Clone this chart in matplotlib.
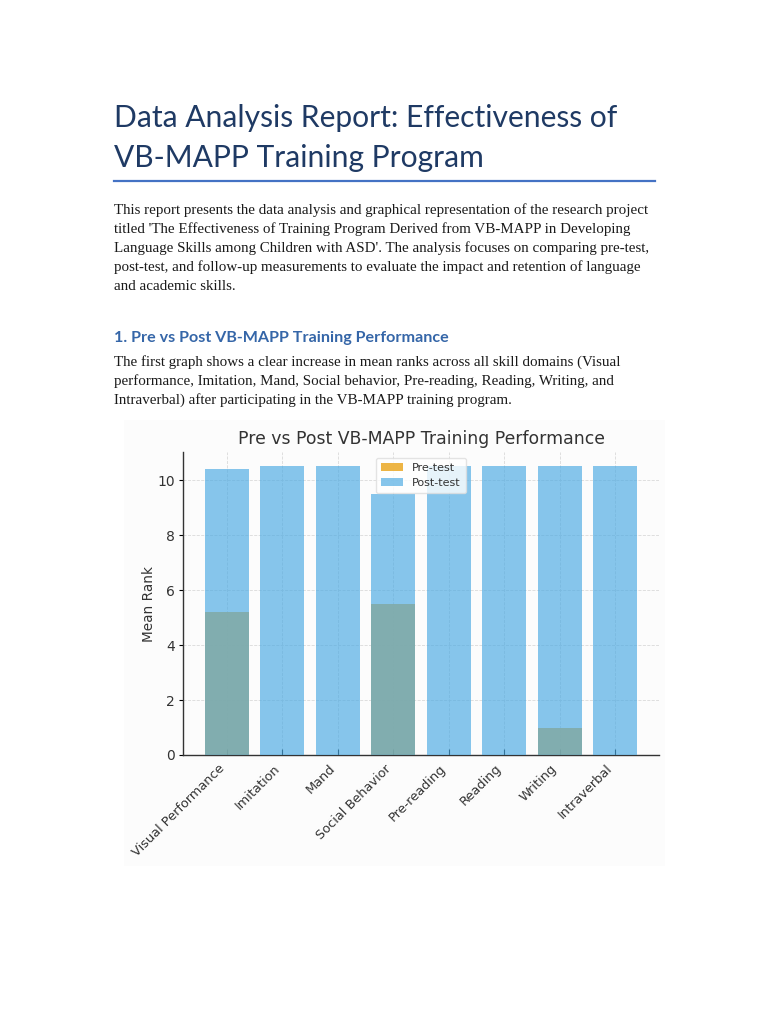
import numpy as np
import matplotlib.pyplot as plt
from matplotlib.patches import Rectangle

# ----------------------------------------------------------------
# data

skills = ["Visual Performance", "Imitation", "Mand", "Social Behavior",
          "Pre-reading", "Reading", "Writing", "Intraverbal"]
pre_test = [5.2, 0.0, 0.0, 5.5, 0.0, 0.0, 1.0, 0.0]
post_test = [10.4, 10.5, 10.5, 9.5, 10.5, 10.5, 10.5, 10.5]

doc_title = ["Data Analysis Report: Effectiveness of", "VB-MAPP Training Program"]
intro_lines = [
    "This report presents the data analysis and graphical representation of the research project",
    "titled 'The Effectiveness of Training Program Derived from VB-MAPP in Developing",
    "Language Skills among Children with ASD'. The analysis focuses on comparing pre-test,",
    "post-test, and follow-up measurements to evaluate the impact and retention of language",
    "and academic skills.",
]
section_head = "1. Pre vs Post VB-MAPP Training Performance"
section_lines = [
    "The first graph shows a clear increase in mean ranks across all skill domains (Visual",
    "performance, Imitation, Mand, Social behavior, Pre-reading, Reading, Writing, and",
    "Intraverbal) after participating in the VB-MAPP training program.",
]

# ----------------------------------------------------------------

W, H = 768, 1024
fig = plt.figure(figsize=(W / 100, H / 100), dpi=100)
fig.patch.set_facecolor("white")

def fy(y):
    # page pixel row -> figure fraction
    return 1 - y / H

left = 114 / W

# page title
for i, line in enumerate(doc_title):
    fig.text(left, fy(118 + 40 * i), line, fontsize=21.6, family="Lato",
             color="#1f3a64", va="center", ha="left")
fig.add_artist(plt.Line2D([left, 655 / W], [fy(181), fy(181)], color="#4472c4", lw=1.6))

serif = "Liberation Serif"
for i, line in enumerate(intro_lines):
    fig.text(left, fy(210 + 19 * i), line, fontsize=10.8, family=serif,
             color="#1a1a1a", va="center", ha="left")

fig.text(left, fy(338), section_head, fontsize=11.6, family="Lato", weight="bold",
         color="#3566a8", va="center", ha="left")
for i, line in enumerate(section_lines):
    fig.text(left, fy(362 + 19 * i), line, fontsize=10.8, family=serif,
             color="#1a1a1a", va="center", ha="left")

# faint background of the embedded chart image
fig.add_artist(Rectangle((124 / W, fy(866)), (665 - 124) / W, (866 - 420) / H,
                         transform=fig.transFigure, facecolor="#fcfcfc",
                         edgecolor="none", zorder=0))

# ----------------------------------------------------------------
# chart

ax = fig.add_axes([183 / W, fy(755), (659 - 183) / W, (755 - 452) / H])
ax.set_facecolor("none")
x = np.arange(len(skills))
ax.bar(x, pre_test, width=0.8, color="#eba825", alpha=0.85, label="Pre-test", zorder=2)
ax.bar(x, post_test, width=0.8, color="#4eabe3", alpha=0.68, label="Post-test", zorder=3)

ax.set_title("Pre vs Post VB-MAPP Training Performance", fontsize=12.4, color="#333333", pad=6)
ax.set_ylabel("Mean Rank", fontsize=9.8, color="#333333", labelpad=1)
ax.set_xticks(x)
ax.set_xticklabels(skills, rotation=45, ha="right", fontsize=9.3, color="#333333")
ax.set_yticks([0, 2, 4, 6, 8, 10])
ax.tick_params(axis="y", labelsize=10, labelcolor="#333333", direction="out", length=3, pad=3)
ax.tick_params(axis="x", direction="in", length=4, pad=5)
ax.grid(True, linestyle="--", color="#dadada", linewidth=0.6, zorder=0)
ax.set_axisbelow(True)
for s in ["top", "right"]:
    ax.spines[s].set_visible(False)
for s in ["left", "bottom"]:
    ax.spines[s].set_color("#333333")
    ax.spines[s].set_linewidth(1.0)

leg = ax.legend(loc="upper center", fontsize=8, frameon=True, framealpha=0.8,
                edgecolor="#dddddd", handlelength=2.0, borderpad=0.5, labelspacing=0.4)
for t in leg.get_texts():
    t.set_color("#333333")

fig.savefig("out.png", dpi=100)
